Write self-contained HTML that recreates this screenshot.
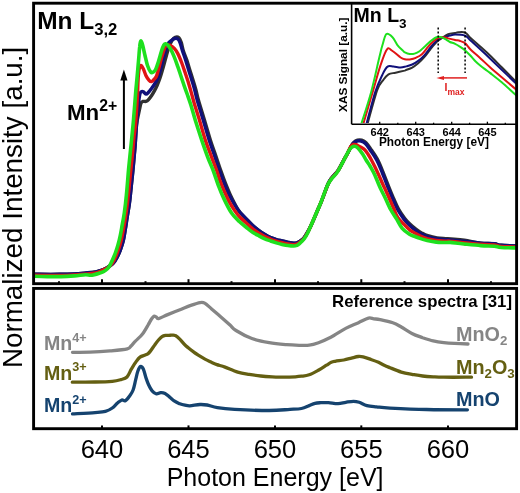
<!DOCTYPE html>
<html><head><meta charset="utf-8"><title>Mn L-edge XAS</title>
<style>
html,body{margin:0;padding:0;background:#fff;}
body{width:520px;height:493px;overflow:hidden;}
svg{display:block;}
text{font-family:'Liberation Sans', Arial, Helvetica, sans-serif;}
</style></head><body>
<svg width="520" height="493" viewBox="0 0 520 493">
<rect x="0" y="0" width="520" height="493" fill="#fff"/>

<defs><clipPath id="cm"><rect x="34" y="4" width="482" height="279"/></clipPath><clipPath id="ci"><rect x="352" y="4" width="164" height="119"/></clipPath><clipPath id="cl"><rect x="34" y="289" width="482" height="139"/></clipPath></defs>
<g clip-path="url(#cm)" fill="none" stroke-linejoin="round" stroke-linecap="round">
<path d="M33.0,274.3 C37.5,274.3 53.1,274.4 60.0,274.3 C66.9,274.2 69.8,274.1 74.4,273.9 C79.0,273.6 84.2,273.1 87.8,272.8 C91.4,272.5 93.7,272.2 95.9,271.8 C98.1,271.4 99.5,270.8 101.0,270.3 C102.5,269.8 103.7,269.4 105.0,268.8 C106.3,268.2 107.6,267.5 109.0,266.5 C110.4,265.5 112.2,264.5 113.5,263.0 C114.8,261.5 115.9,259.6 117.0,257.5 C118.1,255.4 119.2,253.3 120.2,250.5 C121.2,247.7 122.5,244.1 123.3,240.7 C124.1,237.3 124.5,233.9 125.2,230.0 C125.9,226.1 126.5,221.3 127.2,217.0 C127.9,212.7 128.6,209.0 129.3,204.0 C130.0,199.0 130.5,193.2 131.2,187.0 C131.8,180.8 132.6,173.7 133.2,167.0 C133.8,160.3 134.4,154.0 135.0,147.0 C135.6,140.0 135.8,131.2 136.5,125.0 C137.2,118.8 138.7,113.7 139.4,110.0 C140.2,106.3 140.4,104.4 141.0,103.0 C141.6,101.6 142.1,101.7 142.9,101.4 C143.7,101.1 145.0,101.7 145.9,101.4 C146.8,101.1 147.4,100.8 148.3,99.8 C149.2,98.8 150.4,97.3 151.5,95.7 C152.6,94.1 153.9,91.8 154.8,90.1 C155.8,88.3 156.3,87.2 157.2,85.2 C158.1,83.2 159.0,80.9 160.0,78.0 C161.0,75.1 162.0,71.5 163.0,68.0 C164.0,64.5 165.0,60.5 166.0,57.0 C167.0,53.5 168.0,49.8 169.0,47.0 C170.0,44.2 170.9,42.1 172.0,40.5 C173.1,38.9 174.1,37.8 175.3,37.3 C176.5,36.8 177.9,36.9 178.9,37.8 C179.9,38.7 180.5,40.3 181.3,42.5 C182.0,44.7 182.4,48.0 183.4,51.1 C184.4,54.2 185.9,57.5 187.1,60.9 C188.2,64.3 189.2,68.0 190.3,71.5 C191.4,75.0 192.6,78.9 193.6,82.0 C194.6,85.1 195.2,87.2 196.0,90.2 C196.8,93.2 197.0,95.0 198.4,100.0 C199.8,105.0 202.5,113.5 204.5,120.3 C206.5,127.1 208.7,134.8 210.5,140.6 C212.3,146.4 213.9,150.3 215.6,155.3 C217.3,160.3 219.0,165.6 220.7,170.4 C222.4,175.2 224.1,180.0 225.7,184.0 C227.3,188.0 228.6,191.2 230.1,194.5 C231.6,197.8 233.1,200.7 234.6,203.5 C236.1,206.3 237.2,208.7 239.4,211.5 C241.5,214.3 245.2,217.8 247.5,220.2 C249.8,222.6 251.1,224.1 253.0,225.8 C254.9,227.5 257.0,229.2 259.0,230.6 C261.0,232.0 262.9,233.2 264.8,234.4 C266.7,235.6 268.7,236.7 270.6,237.5 C272.5,238.3 274.4,238.9 276.3,239.5 C278.2,240.1 280.2,240.5 282.1,241.0 C284.1,241.5 286.1,242.0 288.0,242.4 C289.9,242.8 292.1,243.3 293.7,243.3 C295.3,243.3 296.4,243.0 297.5,242.6 C298.6,242.2 299.5,241.5 300.5,240.8 C301.5,240.1 302.4,239.5 303.3,238.6 C304.2,237.7 304.8,236.8 305.6,235.5 C306.4,234.2 307.4,232.5 308.3,230.8 C309.2,229.1 309.6,228.5 311.0,225.5 C312.4,222.5 314.7,217.1 316.5,212.8 C318.3,208.6 320.2,204.6 322.0,200.0 C323.8,195.4 326.0,188.8 327.4,185.5 C328.8,182.2 329.2,181.7 330.1,180.2 C331.0,178.7 331.4,178.3 332.8,176.6 C334.2,174.9 336.5,173.0 338.3,170.2 C340.1,167.4 342.3,162.8 343.8,160.0 C345.3,157.2 346.3,155.7 347.5,153.5 C348.7,151.3 350.1,148.4 351.1,146.6 C352.1,144.8 352.5,143.7 353.6,142.6 C354.7,141.5 356.1,140.6 357.5,140.2 C358.9,139.8 360.3,139.8 361.7,140.2 C363.1,140.6 364.5,141.1 366.0,142.6 C367.5,144.1 368.9,146.3 370.8,149.1 C372.7,151.8 375.3,155.3 377.3,159.1 C379.3,162.8 381.1,167.4 382.8,171.6 C384.5,175.8 386.0,179.9 387.7,184.1 C389.4,188.3 391.0,192.4 392.8,196.6 C394.6,200.8 396.5,205.5 398.5,209.1 C400.5,212.7 402.7,215.7 404.6,218.2 C406.5,220.7 408.2,222.4 410.1,224.3 C412.0,226.2 414.3,228.0 416.2,229.4 C418.1,230.8 419.7,231.9 421.6,232.9 C423.5,233.9 425.2,234.9 427.8,235.7 C430.4,236.5 433.9,237.4 436.9,237.9 C439.9,238.4 443.3,238.5 445.6,238.7 C447.9,238.9 447.8,238.7 450.9,239.0 C454.0,239.3 459.4,239.6 464.4,240.3 C469.4,241.0 475.8,242.5 480.8,243.1 C485.8,243.7 490.9,243.4 494.3,243.8 C497.7,244.2 497.2,244.9 501.1,245.3 C505.1,245.7 515.2,245.9 518.0,246.0" stroke="#303030" stroke-width="3.4"/>
<path d="M33.0,274.3 C37.5,274.3 53.1,274.4 60.0,274.3 C66.9,274.2 69.8,274.1 74.4,273.9 C79.0,273.6 84.2,273.1 87.8,272.8 C91.4,272.5 93.7,272.2 95.9,271.8 C98.1,271.4 99.5,270.8 101.0,270.3 C102.5,269.8 103.7,269.4 105.0,268.8 C106.3,268.2 107.6,267.5 109.0,266.5 C110.4,265.5 112.2,264.5 113.5,263.0 C114.8,261.5 115.9,259.6 117.0,257.5 C118.1,255.4 119.2,253.3 120.2,250.5 C121.2,247.7 122.5,244.1 123.3,240.7 C124.1,237.3 124.5,233.9 125.2,230.0 C125.9,226.1 126.5,221.3 127.2,217.0 C127.9,212.7 128.6,209.0 129.3,204.0 C130.0,199.0 130.5,193.2 131.2,187.0 C131.8,180.8 132.6,173.7 133.2,167.0 C133.8,160.3 134.4,154.0 135.0,147.0 C135.6,140.0 136.0,131.2 136.5,125.0 C137.0,118.8 137.3,115.0 137.8,110.0 C138.3,105.0 139.1,98.0 139.7,95.0 C140.3,92.0 140.7,92.2 141.3,91.7 C141.9,91.2 142.6,91.3 143.4,91.7 C144.2,92.1 145.1,94.0 145.9,94.1 C146.7,94.2 147.4,93.5 148.3,92.5 C149.2,91.5 150.4,89.9 151.5,88.4 C152.6,86.9 153.7,85.5 154.8,83.6 C155.9,81.7 157.2,80.2 158.3,77.2 C159.4,74.2 160.4,69.7 161.5,65.8 C162.6,61.9 163.7,57.3 164.8,53.6 C165.9,49.9 166.9,46.0 168.0,43.8 C169.1,41.6 170.2,41.5 171.3,40.6 C172.4,39.7 173.4,38.8 174.5,38.5 C175.6,38.2 176.9,38.1 177.8,38.9 C178.8,39.6 179.4,41.0 180.2,43.0 C181.0,45.0 181.6,48.1 182.6,51.1 C183.6,54.1 184.8,57.5 185.9,60.9 C187.0,64.3 188.0,68.0 189.1,71.5 C190.2,75.0 191.4,78.9 192.4,82.0 C193.4,85.1 194.0,87.2 194.8,90.2 C195.6,93.2 195.8,95.0 197.2,100.0 C198.6,105.0 201.3,113.5 203.3,120.3 C205.3,127.1 207.5,134.8 209.3,140.6 C211.2,146.4 212.7,150.3 214.4,155.3 C216.1,160.3 217.8,165.6 219.5,170.4 C221.2,175.2 222.9,180.0 224.5,184.0 C226.1,188.0 227.4,191.2 229.0,194.5 C230.6,197.8 232.3,200.7 234.0,203.5 C235.7,206.3 237.1,208.7 239.3,211.5 C241.6,214.3 245.2,217.8 247.5,220.2 C249.8,222.6 251.1,224.1 253.0,225.8 C254.9,227.5 257.0,229.2 259.0,230.6 C261.0,232.0 262.9,233.2 264.8,234.4 C266.7,235.6 268.7,236.7 270.6,237.5 C272.5,238.3 274.4,238.9 276.3,239.5 C278.2,240.1 280.2,240.5 282.1,241.0 C284.1,241.5 286.1,242.0 288.0,242.4 C289.9,242.8 292.1,243.3 293.7,243.3 C295.3,243.3 296.4,243.0 297.5,242.6 C298.6,242.2 299.5,241.5 300.5,240.8 C301.5,240.1 302.4,239.5 303.3,238.6 C304.2,237.7 304.8,236.8 305.6,235.5 C306.4,234.2 307.4,232.5 308.3,230.8 C309.2,229.1 309.6,228.5 311.0,225.5 C312.4,222.5 314.7,217.1 316.5,212.8 C318.3,208.6 320.2,204.6 322.0,200.0 C323.8,195.4 326.0,188.8 327.4,185.5 C328.8,182.2 329.2,181.7 330.1,180.2 C331.0,178.7 331.4,178.3 332.8,176.6 C334.2,174.9 336.5,173.0 338.3,170.2 C340.1,167.4 342.3,162.8 343.8,160.0 C345.3,157.2 346.4,155.6 347.5,153.5 C348.6,151.4 349.6,149.2 350.5,147.5 C351.4,145.8 351.9,144.6 353.0,143.5 C354.1,142.4 355.5,141.5 356.9,141.1 C358.2,140.7 359.7,140.7 361.1,141.1 C362.5,141.5 363.9,142.0 365.4,143.5 C366.9,145.0 368.3,147.2 370.2,150.0 C372.1,152.8 374.7,156.2 376.7,160.0 C378.7,163.8 380.5,168.3 382.2,172.5 C383.9,176.7 385.4,180.8 387.1,185.0 C388.8,189.2 390.4,193.3 392.2,197.5 C394.0,201.7 395.9,206.4 397.9,210.0 C399.9,213.6 402.1,216.6 404.0,219.1 C405.9,221.6 407.6,223.3 409.5,225.2 C411.4,227.1 413.7,228.9 415.6,230.3 C417.5,231.7 419.1,232.8 421.0,233.8 C422.9,234.9 424.6,235.8 427.2,236.6 C429.8,237.4 433.3,238.3 436.3,238.8 C439.3,239.3 442.7,239.4 445.0,239.6 C447.3,239.8 447.2,239.6 450.3,239.9 C453.4,240.2 458.7,240.7 463.8,241.2 C468.9,241.7 475.7,242.7 480.8,243.1 C485.9,243.5 490.9,243.4 494.3,243.8 C497.7,244.2 497.2,244.9 501.1,245.3 C505.1,245.7 515.2,245.9 518.0,246.0" stroke="#10107a" stroke-width="3.4"/>
<path d="M33.0,275.2 C37.5,275.3 53.1,275.5 60.0,275.5 C66.9,275.4 69.8,275.2 74.4,274.9 C79.0,274.6 84.2,274.2 87.8,273.9 C91.4,273.6 93.7,273.5 95.9,273.0 C98.1,272.5 99.7,271.6 101.2,270.9 C102.7,270.2 103.8,269.6 105.0,269.0 C106.2,268.4 107.2,268.0 108.5,267.0 C109.8,266.0 111.3,264.8 112.5,263.0 C113.7,261.2 114.7,259.0 115.8,256.5 C116.9,254.0 118.0,250.9 119.0,248.0 C120.0,245.1 120.7,242.3 121.5,239.0 C122.3,235.7 123.0,231.8 123.7,228.0 C124.4,224.2 125.0,220.7 125.7,216.0 C126.4,211.3 127.1,206.3 127.8,200.0 C128.5,193.7 129.3,185.2 130.0,178.0 C130.7,170.8 131.5,163.8 132.2,157.0 C132.9,150.2 133.4,142.3 134.0,137.0 C134.6,131.7 135.1,129.5 135.5,125.0 C135.9,120.5 136.3,115.0 136.6,110.0 C136.9,105.0 137.2,100.0 137.5,95.0 C137.8,90.0 137.8,84.2 138.1,80.0 C138.3,75.8 138.5,72.4 139.0,70.0 C139.5,67.6 140.3,65.7 141.0,65.5 C141.7,65.3 142.6,67.3 143.4,69.0 C144.2,70.7 145.0,73.6 145.9,75.5 C146.8,77.4 148.2,79.3 149.1,80.3 C150.0,81.3 150.7,81.7 151.5,81.6 C152.3,81.5 153.2,80.4 154.0,79.5 C154.8,78.6 155.7,77.9 156.4,76.3 C157.1,74.7 157.5,73.0 158.3,70.0 C159.2,67.0 160.4,61.8 161.5,58.0 C162.6,54.2 163.9,49.7 164.8,47.5 C165.8,45.3 166.3,45.1 167.2,44.8 C168.1,44.5 169.2,45.0 170.4,45.6 C171.6,46.2 173.3,47.4 174.5,48.7 C175.7,50.0 176.6,51.3 177.8,53.6 C179.0,55.9 180.4,59.4 181.6,62.5 C182.8,65.6 183.9,69.0 185.0,72.3 C186.1,75.5 187.1,78.6 188.2,82.0 C189.2,85.4 190.3,89.1 191.3,92.6 C192.3,96.1 192.8,98.6 194.2,103.2 C195.6,107.8 197.6,114.1 199.5,120.3 C201.4,126.5 203.5,134.5 205.5,140.6 C207.5,146.7 209.7,151.9 211.5,156.8 C213.3,161.7 215.2,166.3 216.5,170.0 C217.8,173.7 218.2,175.7 219.5,179.3 C220.8,182.9 222.9,188.2 224.5,191.8 C226.1,195.5 227.4,198.4 229.0,201.4 C230.6,204.3 232.3,207.0 234.0,209.6 C235.7,212.1 237.1,214.1 239.3,216.5 C241.6,218.9 245.2,222.1 247.5,224.2 C249.8,226.4 251.1,227.7 253.0,229.2 C254.9,230.6 257.0,232.0 259.0,233.2 C261.0,234.4 262.9,235.6 264.8,236.6 C266.7,237.6 268.7,238.5 270.6,239.2 C272.5,240.0 274.4,240.6 276.3,241.2 C278.2,241.8 280.2,242.2 282.1,242.7 C284.1,243.2 286.1,243.6 288.0,243.9 C289.9,244.3 292.1,244.7 293.7,244.7 C295.3,244.6 296.4,244.3 297.5,243.8 C298.6,243.3 299.5,242.5 300.5,241.7 C301.5,241.0 302.4,240.1 303.3,239.2 C304.2,238.3 304.8,237.4 305.6,236.0 C306.4,234.7 307.4,232.9 308.3,231.2 C309.2,229.4 309.6,228.6 311.0,225.5 C312.4,222.4 314.7,217.0 316.5,212.8 C318.3,208.5 320.2,204.3 322.0,199.8 C323.8,195.3 326.0,188.9 327.4,185.7 C328.8,182.4 329.2,182.0 330.1,180.6 C331.0,179.1 331.4,178.7 332.8,177.0 C334.2,175.3 336.5,173.1 338.3,170.3 C340.1,167.5 342.3,163.0 343.8,160.1 C345.3,157.3 346.4,155.6 347.5,153.4 C348.6,151.2 349.6,148.3 350.5,146.8 C351.4,145.3 352.2,144.8 353.1,144.5 C354.1,144.2 355.4,144.5 356.2,144.7 C357.0,144.9 357.2,145.3 358.0,145.7 C358.8,146.1 359.9,146.6 361.0,147.3 C362.1,148.0 363.7,148.8 364.9,150.0 C366.1,151.2 367.1,152.8 368.2,154.5 C369.3,156.2 370.3,157.9 371.4,160.0 C372.5,162.1 373.8,164.6 375.0,167.0 C376.2,169.4 377.2,171.7 378.5,174.5 C379.8,177.3 381.4,181.2 382.7,184.0 C383.9,186.8 384.8,188.3 386.0,191.0 C387.2,193.7 388.8,197.2 390.0,200.0 C391.2,202.8 392.2,205.1 393.5,208.0 C394.8,210.9 395.9,214.8 397.7,217.5 C399.4,220.2 402.0,222.4 404.0,224.4 C406.0,226.5 407.6,228.2 409.5,229.8 C411.4,231.3 413.7,232.4 415.6,233.5 C417.5,234.6 419.1,235.4 421.0,236.2 C422.9,237.1 424.6,237.8 427.2,238.6 C429.8,239.3 433.3,240.0 436.3,240.4 C439.3,240.9 442.7,240.9 445.0,241.1 C447.3,241.2 447.2,240.9 450.3,241.2 C453.4,241.4 458.7,242.1 463.8,242.6 C468.9,243.1 475.7,243.9 480.8,244.3 C485.9,244.8 490.9,244.7 494.3,245.0 C497.7,245.3 497.2,246.1 501.1,246.4 C505.1,246.7 515.2,246.9 518.0,247.0" stroke="#e01414" stroke-width="3.4"/>
<path d="M33.0,276.2 C35.4,276.3 42.9,276.5 47.5,276.6 C52.1,276.7 56.4,276.7 60.9,276.6 C65.4,276.5 70.3,276.2 74.4,275.9 C78.5,275.6 82.8,274.9 85.4,274.8 C88.0,274.7 88.7,275.3 90.0,275.3 C91.3,275.3 91.6,275.4 93.1,275.0 C94.6,274.6 97.4,273.8 99.2,273.2 C101.0,272.6 102.4,272.3 103.8,271.5 C105.2,270.7 106.6,269.6 107.7,268.5 C108.8,267.4 109.2,266.8 110.3,264.6 C111.4,262.4 113.2,258.5 114.5,255.3 C115.8,252.1 116.8,248.8 117.8,245.5 C118.8,242.2 119.5,239.3 120.2,235.8 C121.0,232.3 121.6,228.2 122.3,224.4 C123.0,220.6 123.6,217.9 124.3,213.0 C125.0,208.1 125.7,202.7 126.4,195.0 C127.2,187.3 128.0,175.4 128.8,167.0 C129.6,158.6 130.3,152.0 131.1,144.6 C131.8,137.2 132.7,129.1 133.3,122.3 C133.9,115.5 134.4,109.4 134.8,104.0 C135.2,98.6 135.5,94.7 135.9,90.0 C136.3,85.3 136.8,81.0 137.2,76.0 C137.6,71.0 138.2,64.8 138.6,60.0 C139.0,55.2 139.3,50.2 139.7,47.0 C140.0,43.8 140.2,41.3 140.7,41.0 C141.2,40.7 141.9,42.6 142.6,45.0 C143.3,47.4 144.2,52.1 145.0,55.5 C145.8,58.9 146.6,62.8 147.5,65.5 C148.4,68.2 149.8,70.9 150.7,72.0 C151.6,73.1 152.4,72.6 153.2,72.2 C154.0,71.8 154.8,71.2 155.6,69.5 C156.4,67.8 157.3,65.1 158.3,62.0 C159.3,58.9 160.6,53.8 161.5,51.0 C162.4,48.2 163.2,46.2 163.9,45.0 C164.6,43.8 164.9,43.7 165.6,43.8 C166.3,43.9 167.1,44.3 168.0,45.4 C168.9,46.5 170.2,48.3 171.3,50.3 C172.4,52.3 173.4,54.9 174.5,57.6 C175.6,60.3 176.7,63.5 177.8,66.6 C178.9,69.7 179.9,73.0 181.0,76.3 C182.1,79.5 183.2,83.0 184.3,86.1 C185.4,89.2 186.4,91.9 187.5,95.0 C188.6,98.1 189.5,100.6 190.8,104.8 C192.1,109.0 193.5,114.3 195.3,120.3 C197.2,126.3 199.9,134.5 201.9,140.6 C203.9,146.7 205.8,151.9 207.6,156.8 C209.4,161.7 211.2,165.3 213.0,170.0 C214.8,174.7 216.5,180.5 218.2,185.0 C219.9,189.5 220.9,192.4 223.1,197.0 C225.3,201.6 228.5,208.4 231.2,212.5 C233.9,216.6 236.6,218.9 239.3,221.5 C242.0,224.1 245.2,226.5 247.5,228.3 C249.8,230.1 251.1,231.2 253.0,232.5 C254.9,233.8 257.0,234.8 259.0,235.8 C261.0,236.9 262.9,237.9 264.8,238.8 C266.7,239.7 268.7,240.3 270.6,241.0 C272.5,241.7 274.4,242.3 276.3,242.9 C278.2,243.5 280.2,244.0 282.1,244.4 C284.1,244.8 286.1,245.2 288.0,245.5 C289.9,245.8 292.2,246.0 293.7,246.0 C295.2,246.0 296.0,245.7 297.0,245.3 C298.0,244.9 298.7,244.3 299.5,243.6 C300.3,242.9 301.1,242.2 302.0,241.3 C302.9,240.4 303.7,239.6 304.6,238.3 C305.5,237.0 306.5,235.3 307.4,233.5 C308.3,231.7 308.7,230.7 310.1,227.6 C311.5,224.5 313.8,219.1 315.6,214.8 C317.4,210.5 319.3,206.6 321.1,202.0 C322.9,197.4 325.2,190.7 326.6,187.4 C328.0,184.1 328.4,183.5 329.3,182.0 C330.2,180.5 330.6,180.0 332.0,178.3 C333.4,176.6 335.7,174.7 337.5,171.9 C339.3,169.2 341.4,164.8 343.0,161.8 C344.6,158.8 345.8,156.3 347.0,154.1 C348.2,151.9 349.3,149.7 350.5,148.4 C351.7,147.1 352.8,146.4 354.0,146.3 C355.2,146.2 356.2,146.4 357.6,147.7 C359.0,149.0 361.2,152.0 362.6,154.1 C364.0,156.2 364.9,158.0 366.1,160.0 C367.3,162.0 368.8,163.9 370.0,166.0 C371.2,168.1 372.5,170.3 373.6,172.5 C374.7,174.7 375.6,176.8 376.5,179.0 C377.4,181.2 378.3,183.4 379.2,185.5 C380.1,187.6 381.0,189.5 382.0,191.5 C383.0,193.5 383.5,194.4 385.0,197.5 C386.5,200.6 388.9,206.4 390.9,210.0 C392.8,213.6 394.8,216.0 396.7,219.1 C398.6,222.2 400.1,225.8 402.2,228.3 C404.3,230.8 407.4,232.9 409.5,234.3 C411.6,235.7 413.2,235.8 415.0,236.5 C416.8,237.2 418.0,237.7 420.0,238.4 C422.0,239.1 424.5,239.9 427.2,240.5 C429.9,241.1 433.3,241.8 436.3,242.1 C439.3,242.4 442.7,242.4 445.0,242.5 C447.3,242.6 447.2,242.2 450.3,242.4 C453.4,242.7 458.7,243.5 463.8,244.0 C468.9,244.5 475.7,245.2 480.8,245.6 C485.9,246.0 490.9,245.9 494.3,246.2 C497.7,246.5 497.2,247.2 501.1,247.5 C505.1,247.8 515.2,247.9 518.0,248.0" stroke="#1ee01e" stroke-width="3.6"/>
</g>
<rect x="351.6" y="3" width="165.0" height="121.2" fill="#fff"/>
<g clip-path="url(#ci)" fill="none" stroke-linejoin="round" stroke-linecap="round">
<path d="M367.2,125.0 C368.9,119.2 374.6,97.4 377.3,89.9 C380.0,82.4 381.5,82.4 383.4,79.8 C385.3,77.2 386.5,75.5 388.5,74.3 C390.5,73.1 392.9,73.3 395.6,72.7 C398.3,72.1 402.9,71.0 404.7,70.6 C406.4,70.1 404.9,70.5 406.1,70.0 C407.4,69.5 410.2,68.7 412.2,67.6 C414.2,66.5 416.2,65.0 418.2,63.3 C420.2,61.6 422.3,59.5 424.3,57.2 C426.3,54.9 428.4,51.8 430.4,49.3 C432.4,46.8 434.7,43.8 436.5,42.0 C438.3,40.2 439.5,39.7 441.4,38.4 C443.3,37.1 445.8,35.1 448.1,34.2 C450.4,33.3 453.4,33.4 455.1,33.1 C456.8,32.8 456.4,32.4 458.1,32.3 C459.8,32.2 463.2,31.7 465.2,32.6 C467.2,33.5 467.8,35.3 470.3,37.7 C472.9,40.1 477.2,43.8 480.5,46.8 C483.8,49.8 486.4,52.0 490.0,55.5 C493.6,59.0 497.3,62.8 502.0,67.5 C506.7,72.2 515.3,80.9 518.0,83.6" stroke="#303030" stroke-width="2.0"/>
<path d="M366.2,125.0 C367.7,119.5 372.6,100.3 375.3,91.9 C378.0,83.5 380.4,78.9 382.4,74.7 C384.4,70.5 385.6,67.9 387.5,66.6 C389.4,65.2 391.3,66.4 393.5,66.6 C395.7,66.8 398.5,67.6 400.6,67.6 C402.7,67.6 404.2,66.9 406.1,66.4 C408.0,65.9 410.2,65.4 412.2,64.5 C414.2,63.6 416.2,62.4 418.2,60.9 C420.2,59.4 422.3,57.6 424.3,55.4 C426.3,53.2 428.4,49.9 430.4,47.5 C432.4,45.1 434.9,42.3 436.5,40.8 C438.1,39.3 438.5,39.1 440.1,38.4 C441.7,37.7 444.6,37.1 446.2,36.6 C447.8,36.1 448.4,35.8 449.9,35.5 C451.4,35.2 452.6,34.6 455.1,34.6 C457.7,34.6 462.7,34.8 465.2,35.7 C467.7,36.6 467.8,37.9 470.3,40.2 C472.9,42.5 477.2,46.4 480.5,49.4 C483.8,52.4 486.4,55.1 490.0,58.5 C493.6,61.9 497.3,65.5 502.0,70.0 C506.7,74.5 515.3,82.8 518.0,85.3" stroke="#10107a" stroke-width="2.0"/>
<path d="M363.0,125.0 C364.7,119.2 370.4,99.8 373.3,89.9 C376.2,80.0 378.1,72.4 380.4,65.6 C382.7,58.8 385.0,51.7 387.0,49.3 C389.0,46.9 390.2,49.6 392.5,51.0 C394.8,52.4 398.5,56.1 400.6,57.5 C402.7,58.9 403.4,59.0 404.9,59.3 C406.4,59.6 407.9,59.6 409.7,59.4 C411.5,59.1 413.8,58.7 415.8,57.8 C417.8,56.9 419.9,56.0 421.9,54.2 C423.9,52.4 426.0,49.1 428.0,46.9 C430.0,44.7 432.3,42.3 434.1,40.8 C435.9,39.3 437.3,38.4 438.9,37.8 C440.5,37.2 442.3,37.1 443.8,37.2 C445.3,37.3 446.2,37.9 448.1,38.4 C450.0,38.9 453.1,39.6 455.1,40.0 C457.1,40.4 458.5,40.5 460.2,41.0 C461.9,41.5 463.5,41.9 465.2,43.3 C466.9,44.7 467.8,46.7 470.3,49.2 C472.9,51.7 477.2,55.4 480.5,58.4 C483.8,61.4 486.4,64.0 490.0,67.2 C493.6,70.4 497.3,73.5 502.0,77.5 C506.7,81.5 515.3,88.8 518.0,91.0" stroke="#e01414" stroke-width="2.0"/>
<path d="M361.0,125.0 C362.7,119.5 368.1,103.2 371.2,91.9 C374.2,80.7 377.4,65.3 379.3,57.5 C381.2,49.7 381.2,49.2 382.4,45.3 C383.6,41.4 384.7,35.5 386.4,34.1 C388.1,32.8 390.6,35.3 392.5,37.2 C394.4,39.1 395.9,43.1 397.6,45.3 C399.3,47.5 401.5,49.2 402.7,50.4 C403.9,51.6 403.7,51.8 404.9,52.4 C406.1,53.0 408.1,53.8 409.7,54.0 C411.3,54.2 413.0,54.1 414.6,53.6 C416.2,53.1 417.9,52.3 419.5,51.2 C421.1,50.1 422.5,48.5 424.3,46.9 C426.1,45.3 428.4,43.0 430.4,41.4 C432.4,39.8 434.7,37.9 436.5,37.2 C438.3,36.5 439.8,36.8 441.4,37.2 C443.0,37.6 444.8,38.8 446.2,39.6 C447.6,40.4 448.4,41.3 449.9,42.0 C451.4,42.7 453.4,43.0 455.1,43.8 C456.8,44.6 458.5,45.7 460.2,46.8 C461.9,47.9 463.5,48.9 465.2,50.4 C466.9,51.9 468.6,53.7 470.3,55.5 C472.0,57.3 473.7,59.6 475.4,61.3 C477.1,63.0 478.8,64.4 480.5,65.8 C482.2,67.2 483.9,68.4 485.5,69.6 C487.1,70.8 487.2,70.8 490.0,72.9 C492.8,75.1 497.3,78.5 502.0,82.5 C506.7,86.5 515.3,94.6 518.0,97.0" stroke="#1ee01e" stroke-width="2.0"/>
</g>
<g clip-path="url(#cl)" fill="none" stroke-linejoin="round" stroke-linecap="round">
<path d="M72.5,352.3 C75.4,352.3 83.8,352.4 90.0,352.2 C96.2,352.0 103.8,351.5 110.0,350.9 C116.2,350.3 123.8,349.6 127.3,348.8 C130.8,348.0 129.7,347.3 131.0,346.0 C132.3,344.7 133.5,343.1 135.4,341.2 C137.3,339.2 140.2,337.0 142.3,334.3 C144.4,331.6 146.6,327.6 148.1,325.0 C149.6,322.4 150.5,320.5 151.5,319.0 C152.5,317.5 153.1,316.6 153.9,316.2 C154.7,315.8 155.4,316.5 156.2,316.9 C157.0,317.3 156.6,319.0 158.5,318.6 C160.4,318.2 164.2,316.0 167.7,314.6 C171.2,313.2 175.5,311.5 179.3,310.0 C183.2,308.5 187.3,306.6 190.8,305.4 C194.3,304.2 197.8,303.0 200.1,302.6 C202.4,302.2 202.8,302.1 204.7,303.1 C206.6,304.2 208.9,306.6 211.6,308.9 C214.3,311.2 217.8,314.2 220.9,316.9 C224.0,319.6 227.5,322.7 230.0,325.0 C232.5,327.3 232.3,328.2 236.0,330.5 C239.7,332.8 246.4,336.5 251.9,338.5 C257.4,340.5 263.4,341.6 269.2,342.6 C275.0,343.6 281.4,344.2 286.5,344.7 C291.6,345.1 296.2,345.2 300.0,345.3 C303.8,345.4 306.1,345.6 309.2,345.2 C312.3,344.8 314.9,344.0 318.5,342.7 C322.1,341.4 326.2,339.7 330.8,337.3 C335.4,334.9 341.6,330.5 346.2,328.1 C350.8,325.7 354.8,324.4 358.5,322.7 C362.2,321.0 365.9,318.8 368.5,318.1 C371.1,317.5 371.9,318.6 373.8,318.8 C375.7,319.1 376.8,318.9 380.0,319.6 C383.2,320.3 389.2,321.6 392.8,322.8 C396.4,324.0 398.1,325.2 401.3,327.0 C404.5,328.8 408.3,331.6 411.9,333.4 C415.4,335.2 419.1,336.4 422.6,337.7 C426.2,338.9 429.7,340.1 433.2,340.9 C436.7,341.7 440.2,342.2 443.8,342.6 C447.4,343.0 450.5,343.2 454.5,343.4 C458.5,343.6 465.8,343.9 468.0,344.0" stroke="#858585" stroke-width="3.3"/>
<path d="M72.3,382.2 C76.1,382.2 88.3,382.1 95.0,382.0 C101.7,381.9 108.0,381.7 112.3,381.3 C116.6,380.9 118.5,380.3 121.0,379.6 C123.5,378.9 125.3,378.7 127.0,377.0 C128.7,375.3 129.9,371.6 131.3,369.2 C132.8,366.8 134.2,364.3 135.7,362.3 C137.1,360.3 138.4,358.3 140.0,357.1 C141.6,355.9 143.9,355.6 145.2,355.0 C146.5,354.4 146.9,354.4 147.8,353.8 C148.7,353.2 149.2,352.6 150.4,351.1 C151.6,349.6 153.3,346.9 154.7,345.0 C156.0,343.1 157.3,341.4 158.5,340.0 C159.7,338.6 160.8,337.4 162.0,336.6 C163.2,335.8 164.2,335.6 165.4,335.4 C166.6,335.2 167.9,335.3 169.0,335.3 C170.1,335.3 170.8,335.1 171.9,335.2 C173.0,335.2 174.1,334.9 175.4,335.6 C176.8,336.3 178.3,337.7 180.0,339.4 C181.7,341.1 183.5,343.7 185.8,345.8 C188.1,347.9 191.5,350.4 193.8,352.1 C196.1,353.8 197.7,354.7 199.6,355.9 C201.5,357.1 203.5,358.4 205.4,359.4 C207.3,360.4 209.2,361.2 211.1,362.1 C213.0,363.0 214.6,363.8 216.9,364.6 C219.2,365.4 221.5,365.8 225.0,367.1 C228.5,368.4 233.7,371.0 237.7,372.2 C241.7,373.4 245.3,373.8 249.2,374.4 C253.0,375.0 256.9,375.6 260.8,376.0 C264.7,376.4 268.5,376.6 272.3,376.8 C276.1,377.0 280.0,377.2 283.8,377.2 C287.6,377.2 292.4,377.0 295.4,376.8 C298.3,376.6 299.2,376.5 301.5,376.2 C303.8,375.9 306.3,375.8 309.2,374.8 C312.1,373.8 315.9,371.6 318.8,370.0 C321.7,368.4 324.4,366.5 326.5,365.2 C328.6,363.9 329.9,362.9 331.3,362.3 C332.8,361.7 333.1,361.7 335.2,361.3 C337.3,360.9 341.1,360.5 343.8,360.0 C346.5,359.5 349.1,358.7 351.5,358.1 C353.9,357.5 356.4,356.7 358.3,356.5 C360.2,356.3 361.0,356.4 363.1,356.9 C365.2,357.4 368.2,358.5 370.8,359.4 C373.4,360.3 376.3,361.3 378.5,362.3 C380.7,363.3 382.3,364.3 384.2,365.2 C386.1,366.1 387.1,366.5 390.0,367.7 C392.9,368.9 397.7,371.0 401.3,372.1 C404.9,373.2 408.3,373.7 411.9,374.3 C415.4,374.9 419.1,375.6 422.6,376.0 C426.2,376.4 429.7,376.6 433.2,376.8 C436.7,377.0 437.4,377.1 443.8,377.2 C450.2,377.3 466.9,377.2 471.5,377.2" stroke="#645f12" stroke-width="3.3"/>
<path d="M72.5,413.8 C76.2,413.6 89.5,413.0 95.0,412.6 C100.5,412.2 102.5,412.2 105.4,411.4 C108.3,410.6 110.3,409.4 112.3,408.0 C114.3,406.6 115.9,404.3 117.5,403.0 C119.1,401.7 120.5,400.4 121.8,400.0 C123.1,399.6 124.0,401.4 125.3,400.7 C126.6,400.0 128.3,397.8 129.6,396.0 C130.9,394.2 132.1,392.7 133.1,390.0 C134.1,387.3 134.9,382.8 135.7,379.6 C136.5,376.4 137.1,373.2 137.9,371.0 C138.7,368.8 139.4,366.9 140.3,366.6 C141.2,366.3 142.5,367.3 143.4,369.2 C144.3,371.1 145.1,375.3 146.0,377.9 C146.9,380.5 147.6,382.6 148.6,384.8 C149.6,387.0 150.8,389.3 152.1,390.8 C153.4,392.3 155.0,393.5 156.4,393.8 C157.8,394.1 159.2,392.7 160.7,392.6 C162.1,392.5 163.6,392.7 165.1,393.4 C166.6,394.1 167.8,395.6 169.4,396.9 C171.0,398.2 172.9,400.0 174.6,401.2 C176.3,402.4 178.1,403.1 179.8,403.8 C181.5,404.5 183.3,404.9 185.0,405.2 C186.7,405.5 187.3,405.9 189.8,405.8 C192.3,405.7 197.1,404.6 200.0,404.5 C202.9,404.4 204.2,404.5 207.1,405.0 C210.0,405.5 212.7,407.0 217.3,407.7 C221.9,408.4 225.9,408.9 234.6,409.4 C243.2,409.9 260.0,410.5 269.2,410.5 C278.4,410.5 284.6,409.7 290.0,409.4 C295.4,409.1 298.3,409.1 301.5,408.5 C304.7,407.9 306.9,406.5 309.2,405.6 C311.4,404.7 313.1,403.8 315.0,403.3 C316.9,402.8 318.6,402.8 320.8,402.7 C323.1,402.6 325.6,402.5 328.5,402.7 C331.4,402.9 335.2,403.8 338.1,403.7 C341.0,403.6 343.2,402.7 345.8,402.3 C348.4,401.9 351.3,401.3 353.5,401.3 C355.7,401.3 357.0,401.6 359.2,402.3 C361.4,403.0 364.0,404.8 366.9,405.6 C369.8,406.4 372.6,406.5 376.5,406.9 C380.4,407.3 381.7,407.7 390.0,408.1 C398.3,408.5 413.6,409.2 426.5,409.5 C439.4,409.8 460.6,409.8 467.4,409.8" stroke="#15436f" stroke-width="3.3"/>
</g>
<line x1="59" y1="281.2" x2="59" y2="283.7" stroke="#000" stroke-width="2"/><line x1="102" y1="279.2" x2="102" y2="283.7" stroke="#000" stroke-width="2"/><line x1="102" y1="425.4" x2="102" y2="428.7" stroke="#000" stroke-width="2"/><line x1="145.5" y1="281.2" x2="145.5" y2="283.7" stroke="#000" stroke-width="2"/><line x1="188.5" y1="279.2" x2="188.5" y2="283.7" stroke="#000" stroke-width="2"/><line x1="188.5" y1="425.4" x2="188.5" y2="428.7" stroke="#000" stroke-width="2"/><line x1="231.5" y1="281.2" x2="231.5" y2="283.7" stroke="#000" stroke-width="2"/><line x1="275" y1="279.2" x2="275" y2="283.7" stroke="#000" stroke-width="2"/><line x1="275" y1="425.4" x2="275" y2="428.7" stroke="#000" stroke-width="2"/><line x1="318" y1="281.2" x2="318" y2="283.7" stroke="#000" stroke-width="2"/><line x1="361.3" y1="279.2" x2="361.3" y2="283.7" stroke="#000" stroke-width="2"/><line x1="361.3" y1="425.4" x2="361.3" y2="428.7" stroke="#000" stroke-width="2"/><line x1="404.5" y1="281.2" x2="404.5" y2="283.7" stroke="#000" stroke-width="2"/><line x1="448" y1="279.2" x2="448" y2="283.7" stroke="#000" stroke-width="2"/><line x1="448" y1="425.4" x2="448" y2="428.7" stroke="#000" stroke-width="2"/><line x1="491" y1="281.2" x2="491" y2="283.7" stroke="#000" stroke-width="2"/><line x1="379.7" y1="121.7" x2="379.7" y2="124.2" stroke="#000" stroke-width="1.3"/><line x1="397.8" y1="122.7" x2="397.8" y2="124.2" stroke="#000" stroke-width="1.3"/><line x1="415.7" y1="121.7" x2="415.7" y2="124.2" stroke="#000" stroke-width="1.3"/><line x1="433.6" y1="122.7" x2="433.6" y2="124.2" stroke="#000" stroke-width="1.3"/><line x1="451.7" y1="121.7" x2="451.7" y2="124.2" stroke="#000" stroke-width="1.3"/><line x1="469.6" y1="122.7" x2="469.6" y2="124.2" stroke="#000" stroke-width="1.3"/><line x1="487.4" y1="121.7" x2="487.4" y2="124.2" stroke="#000" stroke-width="1.3"/><line x1="505.3" y1="122.7" x2="505.3" y2="124.2" stroke="#000" stroke-width="1.3"/>
<line x1="351.6" y1="3" x2="351.6" y2="124.2" stroke="#000" stroke-width="1.6"/>
<line x1="351.6" y1="124.2" x2="517" y2="124.2" stroke="#000" stroke-width="1.6"/>
<g stroke="#000" stroke-width="1.5" stroke-dasharray="2,2">
<line x1="438.2" y1="27.5" x2="438.2" y2="73"/>
<line x1="465.1" y1="27.5" x2="465.1" y2="73"/>
</g>
<line x1="442" y1="77.9" x2="467" y2="77.9" stroke="#e02020" stroke-width="1.5"/>
<path d="M436.4,77.9 L444,75.9 L444,79.9 Z" fill="#e02020"/>
<text x="444.6" y="91.3" font-size="10.5" font-weight="bold" fill="#e02020">I<tspan font-size="8.5" dy="3.5">max</tspan></text>
<rect x="33.6" y="3.2" width="483" height="280.5" fill="none" stroke="#000" stroke-width="2.9"/>
<rect x="33.6" y="288.4" width="483" height="140.3" fill="none" stroke="#000" stroke-width="2.9"/>
<text transform="translate(37.2,28.5) scale(1.04,1)" font-size="23.5" font-weight="bold">Mn L<tspan font-size="16" dy="6">3,2</tspan></text>
<text x="353.6" y="22.3" font-size="19.5" font-weight="bold">Mn L<tspan font-size="13.5" dy="5.5">3</tspan></text>
<text x="67" y="120.2" font-size="22.3" font-weight="bold">Mn<tspan font-size="15.8" dy="-9">2+</tspan></text>
<line x1="123.9" y1="78" x2="123.9" y2="149" stroke="#000" stroke-width="2"/>
<path d="M123.9,69.5 L120.3,80.5 L127.5,80.5 Z" fill="#000"/>
<text transform="translate(347,64.8) rotate(-90)" font-size="11.8" font-weight="bold" text-anchor="middle">XAS Signal [a.u.]</text>
<g font-size="11" font-weight="bold" text-anchor="middle">
<text x="379.7" y="135.5">642</text><text x="415.7" y="135.5">643</text><text x="451.7" y="135.5">644</text><text x="487.4" y="135.5">645</text>
</g>
<text x="433.9" y="145.8" font-size="11.85" font-weight="bold" text-anchor="middle">Photon Energy [eV]</text>
<text transform="translate(21.6,207.4) rotate(-90)" font-size="27.8" text-anchor="middle">Normalized Intensity [a.u.]</text>
<g font-size="25.6" text-anchor="middle">
<text x="102" y="458">640</text><text x="188.5" y="458">645</text><text x="275" y="458">650</text><text x="361.3" y="458">655</text><text x="448" y="458">660</text>
</g>
<text x="275.1" y="486" font-size="25" text-anchor="middle">Photon Energy [eV]</text>
<text transform="translate(512,306.6) scale(1.036,1)" font-size="16.2" font-weight="bold" text-anchor="end">Reference spectra [31]</text>
<g font-weight="bold">
<text x="44" y="350.1" font-size="19.6" fill="#858585">Mn<tspan font-size="12.6" dy="-8.4">4+</tspan></text>
<text x="44" y="379.6" font-size="19.6" fill="#645f12">Mn<tspan font-size="12.6" dy="-8.4">3+</tspan></text>
<text x="44" y="411.9" font-size="19.6" fill="#15436f">Mn<tspan font-size="12.6" dy="-8.4">2+</tspan></text>
<text x="456" y="340.8" font-size="19.8" fill="#858585">MnO<tspan font-size="13.3" dy="4.6">2</tspan></text>
<text x="456" y="373.8" font-size="19.8" fill="#645f12">Mn<tspan font-size="13.3" dy="4.6">2</tspan><tspan dy="-4.6">O</tspan><tspan font-size="13.3" dy="4.6">3</tspan></text>
<text x="456" y="406.4" font-size="19.8" fill="#15436f">MnO</text>
</g>

</svg></body></html>
